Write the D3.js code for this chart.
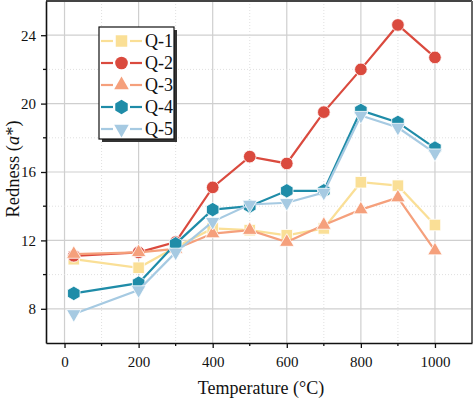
<!DOCTYPE html>
<html>
<head>
<meta charset="utf-8">
<script src="https://cdn.jsdelivr.net/npm/d3@7"></script>
<style>
  body { margin: 0; background: #fff; }
  text { font-family: "Liberation Serif", "Times New Roman", serif; fill: #111; }
</style>
</head>
<body>
<script>
"use strict";
// values
const temperature = [25, 200, 300, 400, 500, 600, 700, 800, 900, 1000];
const seriesNames = ["Q-1", "Q-2", "Q-3", "Q-4", "Q-5"];
const q1 = [10.9, 10.4, 11.6, 12.7, 12.6, 12.3, 12.7, 15.4, 15.2, 12.9];
const q2 = [11.1, 11.3, 11.9, 15.1, 16.9, 16.5, 19.5, 22.0, 24.6, 22.7];
const q3 = [11.2, 11.3, 11.5, 12.4, 12.6, 11.9, 12.9, 13.8, 14.5, 11.4];
const q4 = [8.9, 9.5, 11.8, 13.8, 14.0, 14.9, 14.9, 19.6, 18.9, 17.4];
const q5 = [7.7, 9.1, 11.3, 13.1, 14.1, 14.2, 14.8, 19.3, 18.6, 17.1];
const xTicks = [0, 200, 400, 600, 800, 1000];
const yTicks = [8, 12, 16, 20, 24];

(function(){
    const measurements = {
        width: 474,
        height: 399,
        left: 46,
        right: 472,
        top: 1,
        bottom: 343
    }

    const colors = ["#FADF96", "#DA4A3E", "#F5A07C", "#1F8CA8", "#A6CAE2"]
    const shapes = ["square", "circle", "triangle", "hexagon", "triangleDown"]
    const values = [q1, q2, q3, q4, q5]

    let svg = d3.select("body").append("svg")
        .attr("width", measurements.width)
        .attr("height", measurements.height)

    let scaleX = d3.scaleLinear()
        .domain([-50, 1100])
        .range([measurements.left, measurements.right])
    let scaleY = d3.scaleLinear()
        .domain([6, 26])
        .range([measurements.bottom, measurements.top])

    // grid, minor ones dotted
    const minorX = d3.range(100, 1100, 200)
    const minorY = d3.range(10, 26, 4)
    let grid = svg.append("g")
    grid.selectAll(".gx").data(xTicks).enter().append("line")
        .attr("x1", d => scaleX(d)).attr("x2", d => scaleX(d))
        .attr("y1", measurements.top).attr("y2", measurements.bottom)
        .attr("stroke", "#cfcfcf").attr("stroke-width", 1.2)
    grid.selectAll(".gy").data(yTicks).enter().append("line")
        .attr("x1", measurements.left).attr("x2", measurements.right)
        .attr("y1", d => scaleY(d)).attr("y2", d => scaleY(d))
        .attr("stroke", "#cfcfcf").attr("stroke-width", 1.2)
    grid.selectAll(".mx").data(minorX).enter().append("line")
        .attr("x1", d => scaleX(d)).attr("x2", d => scaleX(d))
        .attr("y1", measurements.top).attr("y2", measurements.bottom)
        .attr("stroke", "#e0e0e0").attr("stroke-dasharray", "1,2")
    grid.selectAll(".my").data(minorY).enter().append("line")
        .attr("x1", measurements.left).attr("x2", measurements.right)
        .attr("y1", d => scaleY(d)).attr("y2", d => scaleY(d))
        .attr("stroke", "#e0e0e0").attr("stroke-dasharray", "1,2")

    // top and right frame
    svg.append("line")
        .attr("x1", measurements.left).attr("x2", measurements.right)
        .attr("y1", measurements.top).attr("y2", measurements.top)
        .attr("stroke", "#444").attr("stroke-width", 2)
    svg.append("line")
        .attr("x1", measurements.right).attr("x2", measurements.right)
        .attr("y1", measurements.top).attr("y2", measurements.bottom)
        .attr("stroke", "#666").attr("stroke-width", 2)

    // axes
    let xAxis = d3.axisBottom(scaleX)
        .tickValues(xTicks).tickFormat(d3.format("d"))
        .tickSize(5).tickPadding(8).tickSizeOuter(0)
    let yAxis = d3.axisLeft(scaleY)
        .tickValues(yTicks).tickFormat(d3.format("d"))
        .tickSize(5).tickPadding(5).tickSizeOuter(0)
    let gx = svg.append("g")
        .attr("transform", "translate(0," + measurements.bottom + ")")
        .call(xAxis)
    let gy = svg.append("g")
        .attr("transform", "translate(" + measurements.left + ",0)")
        .call(yAxis)
    // minor ticks
    gx.selectAll(".minor").data(minorX).enter().append("line")
        .attr("x1", d => scaleX(d)).attr("x2", d => scaleX(d))
        .attr("y1", 0).attr("y2", 3).attr("stroke", "#111").attr("stroke-width", 1.3)
    gy.selectAll(".minor").data(minorY).enter().append("line")
        .attr("y1", d => scaleY(d)).attr("y2", d => scaleY(d))
        .attr("x1", 0).attr("x2", -3).attr("stroke", "#111").attr("stroke-width", 1.3)
    for (let g of [gx, gy]) {
        g.select(".domain").attr("stroke", "#111").attr("stroke-width", 1.6)
        g.selectAll(".tick line").attr("stroke", "#111").attr("stroke-width", 1.3)
        g.selectAll(".tick text")
            .style("font-family", "'Liberation Serif', serif")
            .style("font-size", "15px").attr("fill", "#111")
    }

    // axis titles
    svg.append("text")
        .attr("x", (measurements.left + measurements.right) / 2 + 2)
        .attr("y", 394)
        .attr("text-anchor", "middle")
        .style("font-size", "18px")
        .text("Temperature (°C)")
    let yt = svg.append("text")
        .attr("transform", "translate(19,169) rotate(-90)")
        .attr("text-anchor", "middle")
        .style("font-size", "18.5px")
    yt.append("tspan").text("Redness (")
    yt.append("tspan").style("font-style", "italic").text("a")
    yt.append("tspan").text("*)")

    function markerPath(shape) {
        if (shape === "hexagon") {
            const r = 7.2
            let pts = d3.range(6).map(i => {
                const a = Math.PI / 3 * i - Math.PI / 2
                return [r * Math.cos(a), r * Math.sin(a)]
            })
            return "M" + pts.join("L") + "Z"
        }
        if (shape === "square") return d3.symbol(d3.symbolSquare, 132)()
        if (shape === "circle") return d3.symbol(d3.symbolCircle, 125)()
        return d3.symbol(d3.symbolTriangle, 92)()
    }
    function markerTransform(shape, x, y) {
        if (shape === "triangleDown") return "translate(" + x + "," + y + ") rotate(180)"
        return "translate(" + x + "," + y + ")"
    }

    let line = d3.line()
        .x(d => scaleX(d.t))
        .y(d => scaleY(d.v))

    // series, later ones on top
    values.forEach((vals, i) => {
        let points = temperature.map((t, j) => ({ t: t, v: vals[j] }))
        let g = svg.append("g")
        g.append("path")
            .datum(points)
            .attr("d", line)
            .attr("fill", "none")
            .attr("stroke", colors[i])
            .attr("stroke-width", 2.2)
        g.selectAll(".pt")
            .data(points)
            .enter()
            .append("path")
            .attr("d", markerPath(shapes[i]))
            .attr("transform", d => markerTransform(shapes[i], scaleX(d.t), scaleY(d.v)))
            .attr("fill", colors[i])
            .attr("stroke", "#fff")
            .attr("stroke-width", 0.8)
    })

    // legend
    const legendBox = { x: 99, y: 27, w: 75, h: 112 }
    let legend = svg.append("g")
    legend.append("rect")
        .attr("x", legendBox.x + 3).attr("y", legendBox.y + 3)
        .attr("width", legendBox.w).attr("height", legendBox.h)
        .attr("fill", "#333")
    legend.append("rect")
        .attr("x", legendBox.x).attr("y", legendBox.y)
        .attr("width", legendBox.w).attr("height", legendBox.h)
        .attr("fill", "#fff").attr("stroke", "#111").attr("stroke-width", 1.2)
    seriesNames.forEach((name, i) => {
        const y = 41 + i * 22
        legend.append("line")
            .attr("x1", 101).attr("x2", 113).attr("y1", y).attr("y2", y)
            .attr("stroke", colors[i]).attr("stroke-width", 2.2)
        legend.append("line")
            .attr("x1", 130).attr("x2", 142).attr("y1", y).attr("y2", y)
            .attr("stroke", colors[i]).attr("stroke-width", 2.2)
        legend.append("path")
            .attr("d", markerPath(shapes[i]))
            .attr("transform", markerTransform(shapes[i], 121.5, y))
            .attr("fill", colors[i])
        legend.append("text")
            .attr("x", 145).attr("y", y + 6)
            .style("font-size", "18px")
            .text(name)
    })
})()
</script>
</body>
</html>
